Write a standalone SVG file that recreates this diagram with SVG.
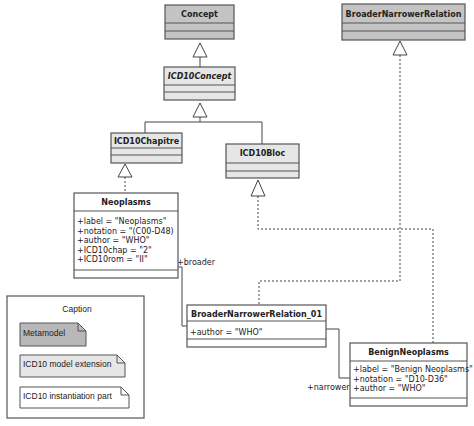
<svg xmlns="http://www.w3.org/2000/svg" width="474" height="426" viewBox="0 0 474 426">
<defs>
<style>
.box{stroke:#555;stroke-width:1.2}
.meta{fill:#c4c4c4}
.ext{fill:#e6e6e6}
.inst{fill:#fff}
.sep{stroke:#555;stroke-width:1;fill:none}
.t{font-family:"DejaVu Sans",Verdana,sans-serif;font-size:8px;fill:#222}
.b{font-weight:bold;text-anchor:middle}
.c{font-family:"Liberation Sans",Arial,sans-serif;font-size:8.5px}
.ln{stroke:#444;stroke-width:1;fill:none}
.dot{stroke:#444;stroke-width:1;fill:none;stroke-dasharray:2,2}
.tri{fill:#fff;stroke:#444;stroke-width:1}
</style>
</defs>
<rect width="474" height="426" fill="#fff"/>
<g id="connectors">
<line class="ln" x1="200" y1="57" x2="200" y2="67"/>
<polygon class="tri" points="200,43 193,57 207,57"/>
<polyline class="ln" points="200,117 200,122"/>
<polyline class="ln" points="145,133 145,122 262,122 262,144"/>
<polygon class="tri" points="200,103 193,117 207,117"/>
<line class="dot" x1="125" y1="177" x2="125" y2="193"/>
<polygon class="tri" points="125,164 118,177 132,177"/>
<polyline class="dot" points="258,196 258,229 433,229 433,343"/>
<polygon class="tri" points="258,180 251,196 265,196"/>
<polyline class="dot" points="400,55 400,281 259,281 259,305"/>
<polygon class="tri" points="400,41 393,55 407,55"/>
<polyline class="ln" points="178,267 182,267 182,326 187,326"/>
<polyline class="ln" points="326,329 339,329 339,378 350,378"/>
<text class="t" x="177" y="265">+broader</text>
<text class="t" x="307" y="390">+narrower</text>
</g>
<g id="Concept">
<rect class="box meta" x="165" y="5" width="69" height="34"/>
<line class="sep" x1="165" y1="23" x2="234" y2="23"/>
<line class="sep" x1="165" y1="31" x2="234" y2="31"/>
<text class="t b" x="199.5" y="17">Concept</text>
</g>
<g id="BroaderNarrowerRelation">
<rect class="box meta" x="342" y="4" width="123" height="36"/>
<line class="sep" x1="342" y1="23" x2="465" y2="23"/>
<line class="sep" x1="342" y1="31" x2="465" y2="31"/>
<text class="t b" x="403.5" y="17">BroaderNarrowerRelation</text>
</g>
<g id="ICD10Concept">
<rect class="box ext" x="164" y="67" width="71" height="33"/>
<line class="sep" x1="164" y1="85" x2="235" y2="85"/>
<line class="sep" x1="164" y1="92" x2="235" y2="92"/>
<text class="t b" x="199.5" y="79" font-style="italic">ICD10Concept</text>
</g>
<g id="ICD10Chapitre">
<rect class="box ext" x="111" y="133" width="71" height="30"/>
<line class="sep" x1="111" y1="148" x2="182" y2="148"/>
<line class="sep" x1="111" y1="155" x2="182" y2="155"/>
<text class="t b" x="146.5" y="144">ICD10Chapitre</text>
</g>
<g id="ICD10Bloc">
<rect class="box ext" x="226" y="144" width="73" height="34"/>
<line class="sep" x1="226" y1="163" x2="299" y2="163"/>
<line class="sep" x1="226" y1="171" x2="299" y2="171"/>
<text class="t b" x="262.5" y="156">ICD10Bloc</text>
</g>
<g id="Neoplasms">
<rect class="box inst" x="74" y="193" width="104" height="85"/>
<line class="sep" x1="74" y1="211" x2="178" y2="211"/>
<line class="sep" x1="74" y1="270" x2="178" y2="270"/>
<text class="t b" x="126" y="205">Neoplasms</text>
<text class="t" x="77" y="224">+label = "Neoplasms"</text>
<text class="t" x="77" y="233.5">+notation = "(C00-D48)</text>
<text class="t" x="77" y="243">+author = "WHO"</text>
<text class="t" x="77" y="252.5">+ICD10chap = "2"</text>
<text class="t" x="77" y="262">+ICD10rom = "II"</text>
</g>
<g id="BroaderNarrowerRelation_01">
<rect class="box inst" x="187" y="305" width="139" height="42"/>
<line class="sep" x1="187" y1="321" x2="326" y2="321"/>
<line class="sep" x1="187" y1="339" x2="326" y2="339"/>
<text class="t b" x="256.5" y="316.5">BroaderNarrowerRelation_01</text>
<text class="t" x="190" y="334.5">+author = "WHO"</text>
</g>
<g id="BenignNeoplasms">
<rect class="box inst" x="350" y="343" width="117" height="63"/>
<line class="sep" x1="350" y1="361" x2="467" y2="361"/>
<line class="sep" x1="350" y1="398" x2="467" y2="398"/>
<text class="t b" x="408.5" y="354.5">BenignNeoplasms</text>
<text class="t" x="353" y="372" font-size="7.6">+label = "Benign Neoplasms"</text>
<text class="t" x="353" y="381.5">+notation = "D10-D36"</text>
<text class="t" x="353" y="391">+author = "WHO"</text>
</g>
<g id="Caption">
<rect x="7" y="296" width="137" height="122" fill="#fff" stroke="#555" stroke-width="1.2"/>
<text class="t c" x="77" y="312" text-anchor="middle">Caption</text>
<path d="M20,323 H78 L86,331 V346 H20 Z" fill="#b8b8b8" stroke="#555"/>
<path d="M78,323 V331 H86" fill="none" stroke="#555"/>
<text class="t c" x="23" y="336">Metamodel</text>
<path d="M20,355 H117 L125,363 V377 H20 Z" fill="#e6e6e6" stroke="#555"/>
<path d="M117,355 V363 H125" fill="none" stroke="#555"/>
<text class="t c" x="23" y="367">ICD10 model extension</text>
<path d="M20,387 H121 L129,395 V408 H20 Z" fill="#fff" stroke="#555"/>
<path d="M121,387 V395 H129" fill="none" stroke="#555"/>
<text class="t c" x="23" y="399">ICD10 instantiation part</text>
</g>
</svg>
